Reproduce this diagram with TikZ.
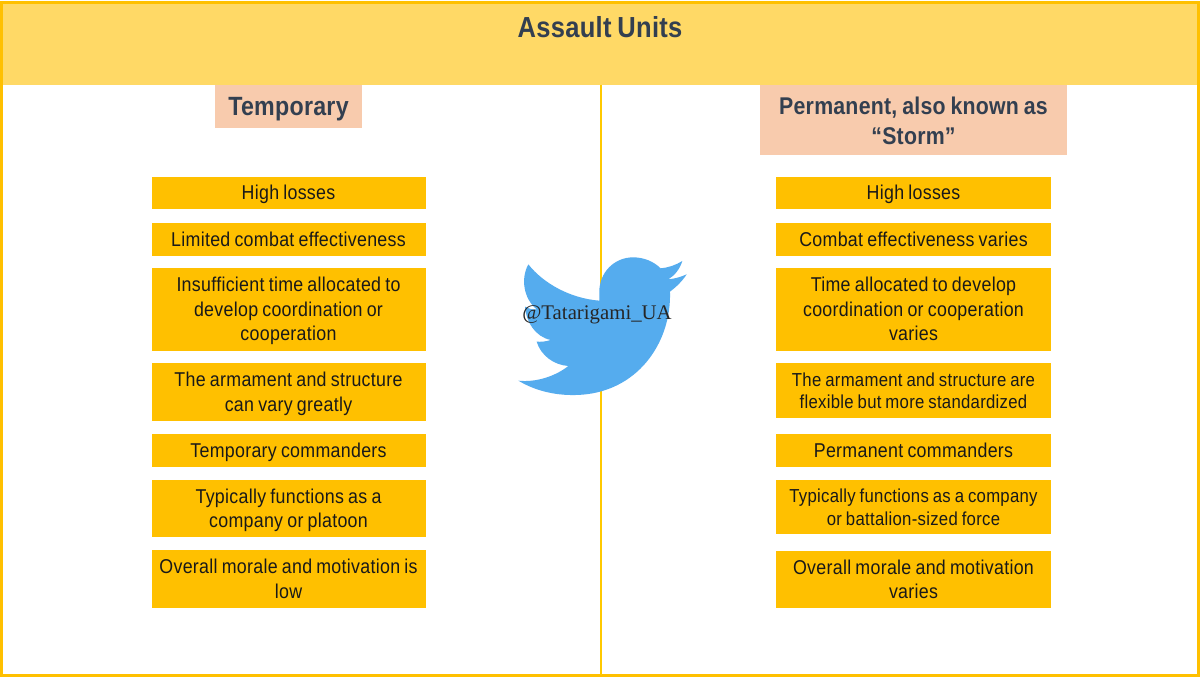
\documentclass[tikz,border=0pt]{standalone}
\usepackage{fontspec}
\setmainfont{Liberation Sans}
\newfontfamily\narrowfont[FakeStretch=0.89,LetterSpace=1.5,WordSpace=0.8]{Liberation Sans}
\newfontfamily\headfont[FakeStretch=0.88,LetterSpace=1,WordSpace=0.8]{Liberation Sans}
\newfontfamily\handlefont{Liberation Serif}
\definecolor{amber}{HTML}{FFC000}
\definecolor{headerfill}{HTML}{FFD966}
\definecolor{peach}{HTML}{F8CBAD}
\definecolor{slate}{HTML}{333F50}
\definecolor{birdblue}{HTML}{55ACEE}
\tikzset{
  x=1pt,y=-1pt,
  itembox/.style={fill=amber,draw=none,inner sep=0pt,align=center,text=black!90,text height=13.5pt,text depth=0pt,
    font=\narrowfont\fontsize{20}{24.5}\selectfont},
  twolines/.style={text height=38pt},
  threelines/.style={text height=62.5pt},
  smallitem/.style={font=\narrowfont\fontsize{18.8}{22.5}\selectfont,text height=36pt},
  headbox/.style={fill=peach,inner sep=0pt,align=center,text=slate,text height=18pt,text depth=0pt},
  lc/.style={itembox,minimum width=274pt},
  rc/.style={itembox,minimum width=275pt},
}
\begin{document}
\begin{tikzpicture}
\useasboundingbox (0,0) rectangle (1200,677);
\fill[white] (0,0) rectangle (1200,677);
\fill[headerfill] (0,3) rectangle (1200,85);
\draw[amber,line width=3pt] (1.5,3) rectangle (1198.5,675.5);
\coordinate (divtop) at (601,85);
\coordinate (divbot) at (601,675);
\draw[amber!85!yellow,line width=2pt] (divtop) -- (divbot);
\node[font=\headfont\bfseries\fontsize{29}{32}\selectfont,text=slate] (title) at (600,27) {Assault Units};
\node[headbox,font=\headfont\bfseries\fontsize{26.4}{30}\selectfont,minimum width=147pt,minimum height=42pt] (tmp) at (288.5,106.5) {Temporary};
\node[headbox,font=\headfont\bfseries\fontsize{24.2}{30}\selectfont,text height=48pt,minimum width=307pt,minimum height=70pt] (perm) at (913.5,120) {Permanent, also known as\\[0pt]“Storm”};
% left column
\node[lc,minimum height=32pt] (l1) at (288.5,193) {High losses};
\node[lc,minimum height=33pt] (l2) at (288.5,239.5) {Limited combat effectiveness};
\node[lc,threelines,minimum height=83pt] (l3) at (288.5,309.5) {Insufficient time allocated to\\develop coordination or\\cooperation};
\node[lc,twolines,minimum height=58pt] (l4) at (288.5,392) {The armament and structure\\can vary greatly};
\node[lc,minimum height=33pt] (l5) at (288.5,450.5) {Temporary commanders};
\node[lc,twolines,minimum height=57pt] (l6) at (288.5,508.5) {Typically functions as a\\company or platoon};
\node[lc,twolines,minimum height=58pt] (l7) at (288.5,579) {Overall morale and motivation is\\low};
% right column
\node[rc,minimum height=32pt] (r1) at (913.5,193) {High losses};
\node[rc,minimum height=33pt] (r2) at (913.5,239.5) {Combat effectiveness varies};
\node[rc,threelines,minimum height=83pt] (r3) at (913.5,309.5) {Time allocated to develop\\coordination or cooperation\\varies};
\node[rc,smallitem,minimum height=55pt] (r4) at (913.5,390.5) {The armament and structure are\\flexible but more standardized};
\node[rc,minimum height=33pt] (r5) at (913.5,450.5) {Permanent commanders};
\node[rc,smallitem,minimum height=54pt] (r6) at (913.5,507) {Typically functions as a company\\or battalion-sized force};
\node[rc,twolines,minimum height=57pt] (r7) at (913.5,579.5) {Overall morale and motivation\\varies};
% bird
\begin{scope}[shift={(500,240)},x=0.3333pt,y=-0.3333pt]
\fill[birdblue] (547,63) .. controls (528,75) and (505,83) .. (482,85)
  .. controls (462,65) and (432,52) .. (400,52)
  .. controls (340,52) and (298,100) .. (298,155)
  -- (298,182)
  .. controls (210,175) and (130,130) .. (85,73)
  .. controls (62,115) and (70,175) .. (110,208)
  .. controls (95,210) and (85,205) .. (75,200)
  .. controls (78,245) and (105,290) .. (152,300)
  .. controls (138,305) and (122,306) .. (110,305)
  .. controls (122,345) and (160,375) .. (205,378)
  .. controls (165,410) and (105,428) .. (55,422)
  .. controls (105,452) and (165,467) .. (230,465)
  .. controls (410,460) and (515,310) .. (510,155)
  .. controls (530,140) and (548,122) .. (560,103)
  .. controls (542,111) and (525,116) .. (505,118)
  .. controls (525,106) and (540,86) .. (547,63) -- cycle;
\end{scope}
\node[font=\handlefont\fontsize{20.8}{22}\selectfont,text=black!85,inner sep=0pt] (handle) at (597,315) {@Tatarigami\_UA};
\end{tikzpicture}
\end{document}
